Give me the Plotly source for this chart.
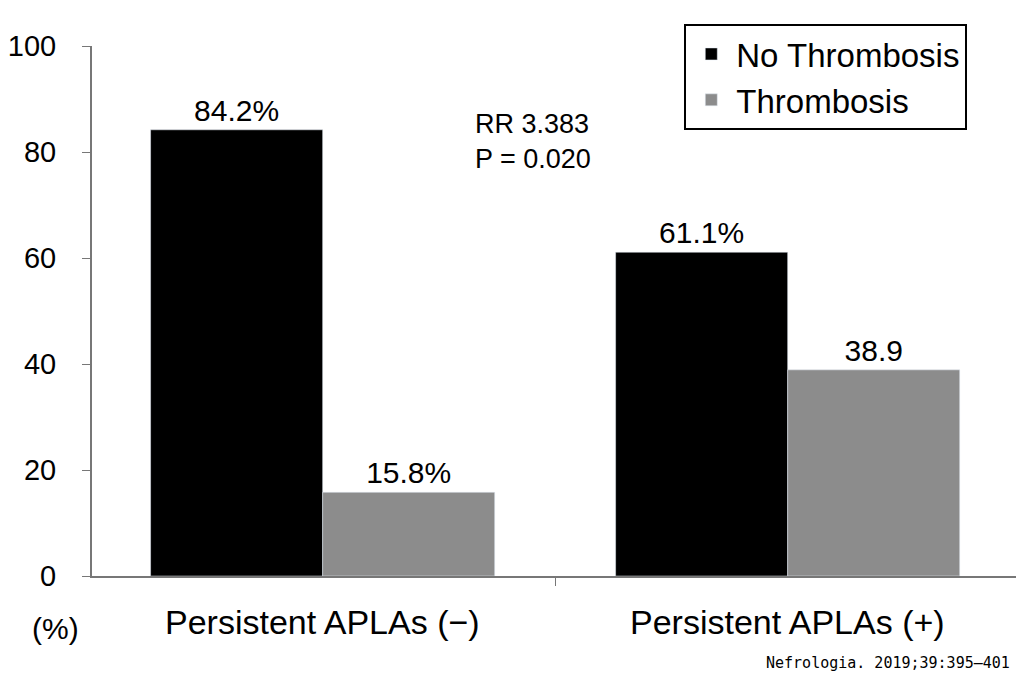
import plotly.graph_objects as go

categories = ["Persistent APLAs (−)", "Persistent APLAs (+)"]
no_thrombosis = [84.2, 61.1]
thrombosis = [15.8, 38.9]
no_labels = ["84.2%", "61.1%"]
thr_labels = ["15.8%", "38.9"]
yticks = [0, 20, 40, 60, 80, 100]

xs = list(range(len(categories)))
font = "Liberation Sans, Arial, sans-serif"
fig = go.Figure()
fig.add_bar(x=xs, y=no_thrombosis, name="No Thrombosis", marker_color="black",
            text=no_labels, textposition="outside", cliponaxis=False,
            textfont=dict(size=30, color="black"))
fig.add_bar(x=xs, y=thrombosis, name="Thrombosis", marker_color="#8c8c8c",
            text=thr_labels, textposition="outside", cliponaxis=False,
            textfont=dict(size=30, color="black"))
for i, c in enumerate(categories):
    fig.add_annotation(x=i, y=0, yref="y", text=c, showarrow=False, yshift=-46,
                       font=dict(size=34, color="black"))
fig.add_annotation(x=0.324, y=88.5, text="RR 3.383<br>P = 0.020", showarrow=False,
                   xanchor="left", yanchor="top", align="left",
                   font=dict(size=27, color="black"))
fig.add_annotation(xref="paper", yref="paper", x=-0.04, y=-0.095, text="(%)",
                   showarrow=False, xanchor="center", yanchor="middle",
                   font=dict(size=30, color="black"))
fig.add_annotation(xref="paper", yref="paper", x=0.996, y=-0.158, text="Nefrologia. 2019;39:395–401",
                   showarrow=False, xanchor="right", yanchor="middle",
                   font=dict(size=15, color="black", family="DejaVu Sans Mono"))
fig.update_layout(
    width=1008, height=678, paper_bgcolor="white", plot_bgcolor="white",
    margin=dict(l=82, r=0, t=0, b=110), barmode="group", bargap=0.26, bargroupgap=0,
    font=dict(family=font, color="black"),
    legend=dict(x=0.641, y=1.0, xanchor="left", yanchor="top", bordercolor="black",
                borderwidth=2, font=dict(size=33), bgcolor="white", tracegroupgap=0,
                itemwidth=40),
    xaxis=dict(range=[-0.496, 1.491], tickvals=[-0.5, 0.5, 1.5], showticklabels=False,
               ticks="outside", ticklen=8, tickcolor="#777", showline=True,
               linecolor="#777", linewidth=2, showgrid=False, zeroline=False),
    yaxis=dict(range=[0, 100], domain=[0, 0.96], tickvals=yticks, ticks="outside", ticklen=8,
               tickcolor="#777", showline=True, linecolor="#777", linewidth=2,
               showgrid=False, zeroline=False, tickfont=dict(size=29),
               ticklabelstandoff=20),
)
fig.write_html("out.html")
